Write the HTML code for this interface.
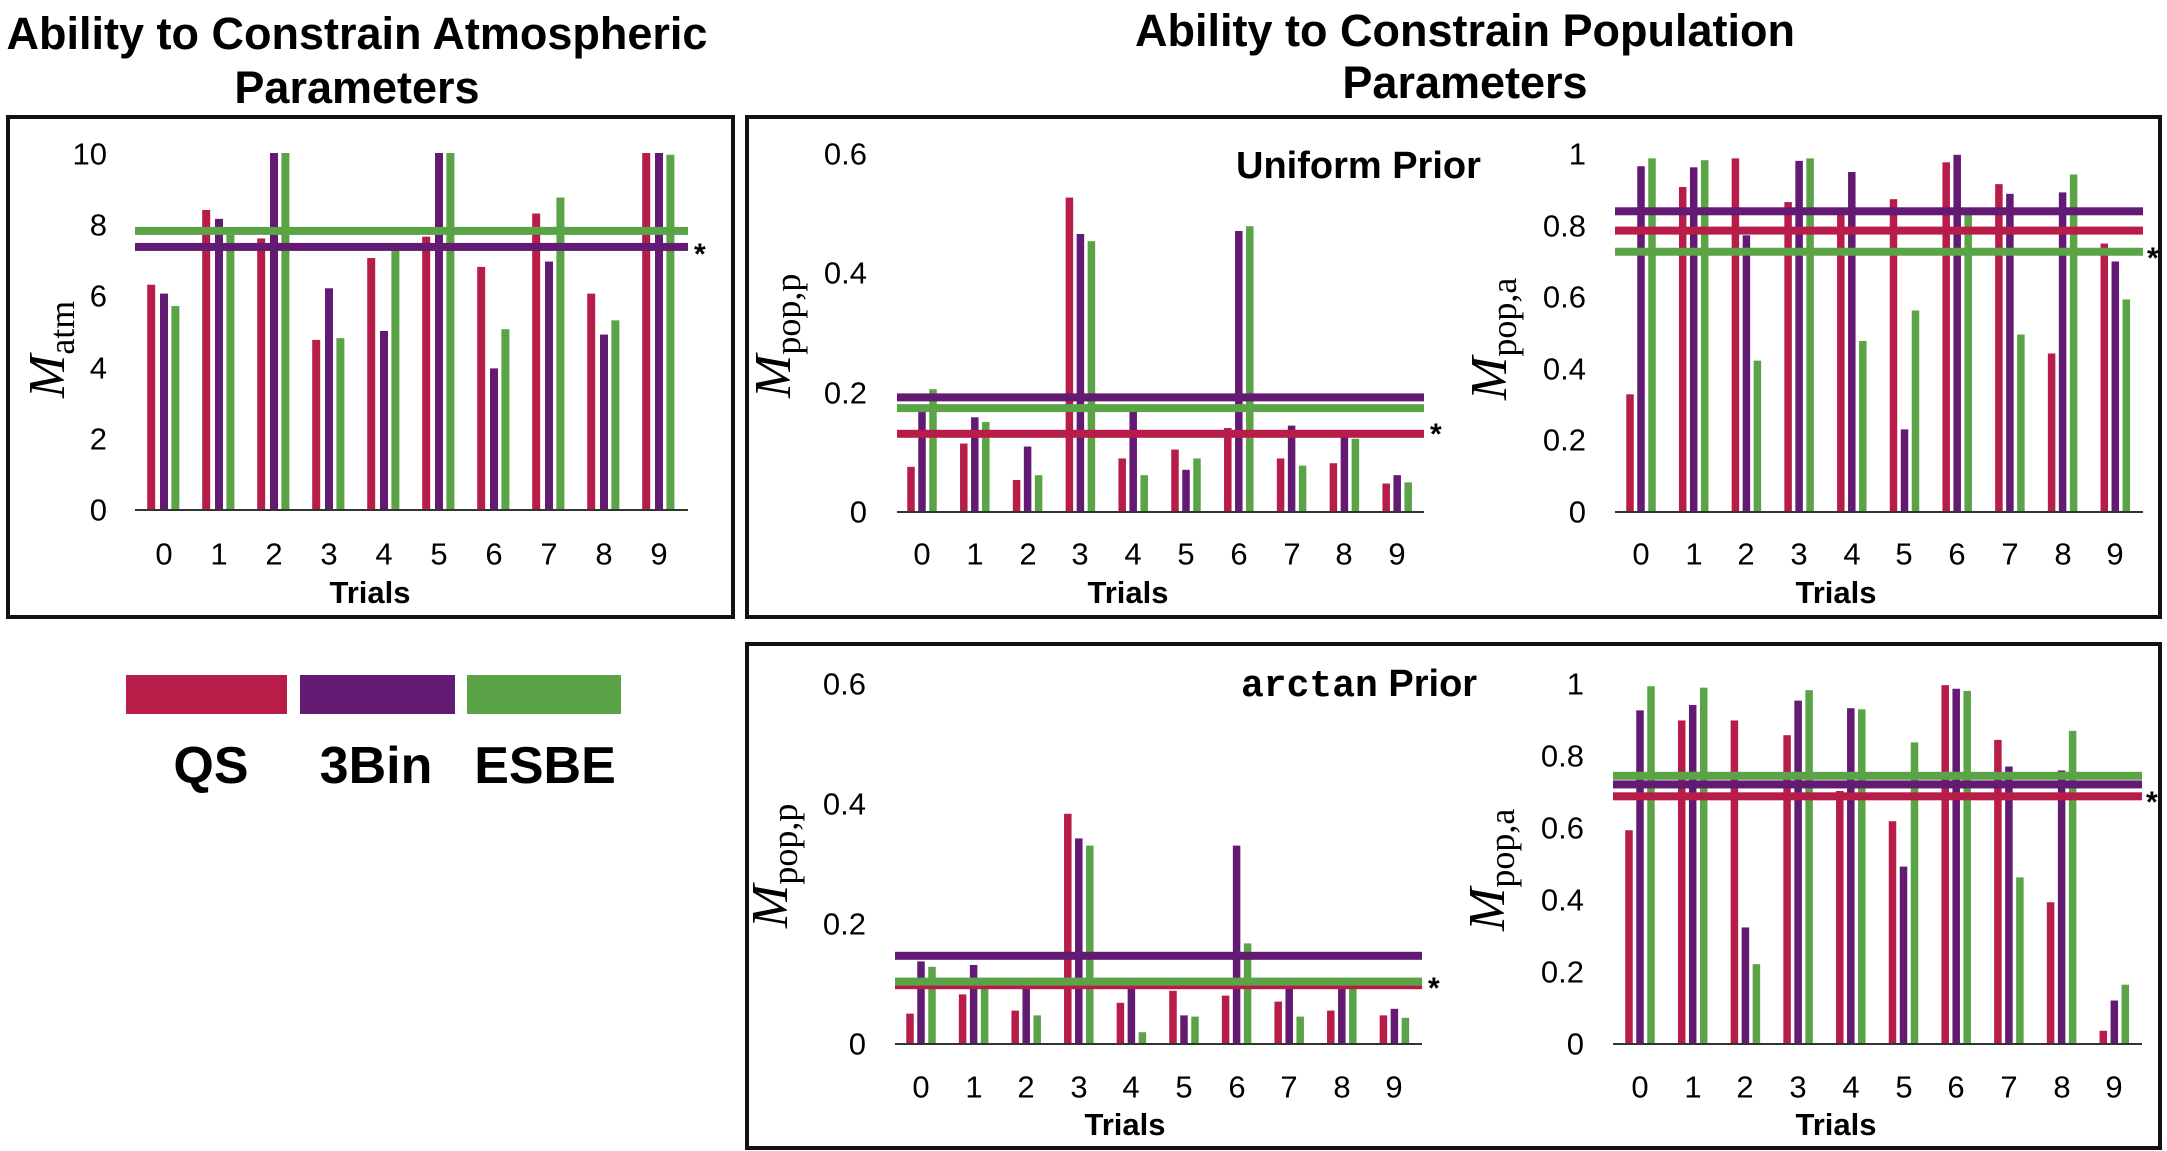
<!DOCTYPE html>
<html><head><meta charset="utf-8"><style>
html,body{margin:0;padding:0;background:#fff;}
svg{display:block;}
text{font-family:"Liberation Sans",sans-serif;fill:#000;}
.t{font-size:31px;}
.b{font-weight:bold;}
.m{font-family:"Liberation Serif",serif;font-style:italic;font-size:52px;}
.s{font-family:"Liberation Serif",serif;font-size:36px;}
</style></head><body>
<svg id="c" width="2167" height="1151" xmlns="http://www.w3.org/2000/svg">
<rect width="2167" height="1151" fill="#fff"/>
<g id="bars"></g>
<text x="357" y="49" text-anchor="middle" class="b" font-size="45">Ability to Constrain Atmospheric</text>
<text x="357" y="103" text-anchor="middle" class="b" font-size="45">Parameters</text>
<text x="1465" y="46" text-anchor="middle" class="b" font-size="45">Ability to Constrain Population</text>
<text x="1465" y="98" text-anchor="middle" class="b" font-size="45">Parameters</text>
<rect x="8" y="117" width="725" height="500" fill="none" stroke="#111" stroke-width="4"/>
<rect x="747" y="117" width="1413" height="500" fill="none" stroke="#111" stroke-width="4"/>
<rect x="747" y="644" width="1413" height="504" fill="none" stroke="#111" stroke-width="4"/>
<text x="1236" y="178" class="b" font-size="38">Uniform Prior</text>
<text x="1241" y="696" font-size="38"><tspan font-family="Liberation Mono,monospace" font-weight="bold">arctan</tspan><tspan font-weight="bold"> Prior</tspan></text>
<g class="t" text-anchor="end" dominant-baseline="central">
<text x="107" y="510">0</text><text x="107" y="439">2</text><text x="107" y="368">4</text><text x="107" y="296">6</text><text x="107" y="225">8</text><text x="107" y="154">10</text>
<text x="867" y="512">0</text><text x="867" y="393">0.2</text><text x="867" y="273">0.4</text><text x="867" y="154">0.6</text>
<text x="1586" y="512">0</text><text x="1586" y="440">0.2</text><text x="1586" y="369">0.4</text><text x="1586" y="297">0.6</text><text x="1586" y="226">0.8</text><text x="1586" y="154">1</text>
<text x="866" y="1044">0</text><text x="866" y="924">0.2</text><text x="866" y="804">0.4</text><text x="866" y="684">0.6</text>
<text x="1584" y="1044">0</text><text x="1584" y="972">0.2</text><text x="1584" y="900">0.4</text><text x="1584" y="828">0.6</text><text x="1584" y="756">0.8</text><text x="1584" y="684">1</text>
</g>
<g class="t" text-anchor="middle" dominant-baseline="central">
<text x="164" y="554">0</text><text x="219" y="554">1</text><text x="274" y="554">2</text><text x="329" y="554">3</text><text x="384" y="554">4</text><text x="439" y="554">5</text><text x="494" y="554">6</text><text x="549" y="554">7</text><text x="604" y="554">8</text><text x="659" y="554">9</text>
<text x="922" y="554">0</text><text x="975" y="554">1</text><text x="1028" y="554">2</text><text x="1080" y="554">3</text><text x="1133" y="554">4</text><text x="1186" y="554">5</text><text x="1239" y="554">6</text><text x="1292" y="554">7</text><text x="1344" y="554">8</text><text x="1397" y="554">9</text>
<text x="1641" y="554">0</text><text x="1694" y="554">1</text><text x="1746" y="554">2</text><text x="1799" y="554">3</text><text x="1852" y="554">4</text><text x="1904" y="554">5</text><text x="1957" y="554">6</text><text x="2010" y="554">7</text><text x="2063" y="554">8</text><text x="2115" y="554">9</text>
<text x="921" y="1087">0</text><text x="974" y="1087">1</text><text x="1026" y="1087">2</text><text x="1079" y="1087">3</text><text x="1131" y="1087">4</text><text x="1184" y="1087">5</text><text x="1237" y="1087">6</text><text x="1289" y="1087">7</text><text x="1342" y="1087">8</text><text x="1394" y="1087">9</text>
<text x="1640" y="1087">0</text><text x="1693" y="1087">1</text><text x="1745" y="1087">2</text><text x="1798" y="1087">3</text><text x="1851" y="1087">4</text><text x="1904" y="1087">5</text><text x="1956" y="1087">6</text><text x="2009" y="1087">7</text><text x="2062" y="1087">8</text><text x="2114" y="1087">9</text>
</g>
<g class="b" font-size="31" text-anchor="middle">
<text x="370" y="603">Trials</text>
<text x="1128" y="603">Trials</text>
<text x="1836" y="603">Trials</text>
<text x="1125" y="1135">Trials</text>
<text x="1836" y="1135">Trials</text>
</g>
<text transform="translate(64,398) rotate(-90)"><tspan class="m">M</tspan><tspan class="s" dy="10">atm</tspan></text>
<text transform="translate(790,398) rotate(-90)"><tspan class="m">M</tspan><tspan class="s" dy="10">pop,p</tspan></text>
<text transform="translate(1506,400) rotate(-90)"><tspan class="m">M</tspan><tspan class="s" dy="10">pop,a</tspan></text>
<text transform="translate(787,928) rotate(-90)"><tspan class="m">M</tspan><tspan class="s" dy="10">pop,p</tspan></text>
<text transform="translate(1504,931) rotate(-90)"><tspan class="m">M</tspan><tspan class="s" dy="10">pop,a</tspan></text>
<g class="b" font-size="30">
<text x="694" y="264">*</text>
<text x="1430" y="444">*</text>
<text x="2147" y="268">*</text>
<text x="1428" y="998">*</text>
<text x="2146" y="812">*</text>
</g>
<rect x="126" y="675" width="161" height="39" fill="#B81C48"/>
<rect x="300" y="675" width="155" height="39" fill="#621A72"/>
<rect x="467" y="675" width="154" height="39" fill="#5AA447"/>
<g class="b" font-size="52" text-anchor="middle">
<text x="211" y="783">QS</text>
<text x="376" y="783">3Bin</text>
<text x="545" y="783">ESBE</text>
</g>
</svg>
<script>
var C=["#B81C48","#621A72","#5AA447"];
var P=[
{x0:164,dx:55,z:510,s:35.6,a:135,b:688,off:[-12.8,0,11.4],w:8,
 v:[[6.3,6.05,5.7],[8.4,8.15,7.7],[7.6,10,10],[4.75,6.2,4.8],[7.05,5.0,7.35],[7.65,10,10],[6.8,3.95,5.05],[8.3,6.95,8.75],[6.05,4.9,5.3],[10,10,9.95]],
 L:[[2,7.84],[1,7.39]]},
{x0:922,dx:52.8,z:512,s:597,a:897,b:1424,off:[-11,0,11],w:7.5,
 v:[[0.074,0.175,0.204],[0.113,0.157,0.149],[0.052,0.108,0.06],[0.525,0.464,0.452],[0.088,0.172,0.06],[0.103,0.069,0.088],[0.139,0.469,0.477],[0.088,0.143,0.076],[0.08,0.13,0.121],[0.046,0.06,0.048]],
 L:[[1,0.192],[2,0.174],[0,0.131]]},
{x0:1641,dx:52.7,z:512,s:358,a:1615,b:2143,off:[-11,0,11],w:7.5,
 v:[[0.326,0.963,0.985],[0.905,0.96,0.98],[0.985,0.77,0.42],[0.863,0.978,0.985],[0.83,0.947,0.475],[0.871,0.228,0.56],[0.974,0.995,0.83],[0.913,0.886,0.493],[0.44,0.89,0.94],[0.747,0.697,0.591]],
 L:[[1,0.84],[0,0.786],[2,0.727]]},
{x0:921,dx:52.6,z:1044,s:600,a:895,b:1422,off:[-11,0,11],w:7.5,
 v:[[0.049,0.136,0.127],[0.081,0.13,0.1],[0.054,0.1,0.046],[0.382,0.341,0.329],[0.067,0.1,0.018],[0.087,0.046,0.044],[0.079,0.329,0.166],[0.069,0.1,0.044],[0.054,0.1,0.091],[0.046,0.057,0.042]],
 L:[[1,0.147],[0,0.098],[2,0.104]]},
{x0:1640,dx:52.7,z:1044,s:360,a:1613,b:2142,off:[-11,0,11],w:7.5,
 v:[[0.591,0.924,0.991],[0.896,0.939,0.987],[0.896,0.321,0.219],[0.855,0.951,0.98],[0.7,0.93,0.927],[0.616,0.49,0.835],[0.994,0.984,0.978],[0.842,0.768,0.46],[0.391,0.757,0.867],[0.034,0.118,0.162]],
 L:[[2,0.745],[1,0.721],[0,0.688]]}
];
var g=document.getElementById("bars"),NS="http://www.w3.org/2000/svg";
function r(x,y,w,h,f){var e=document.createElementNS(NS,"rect");e.setAttribute("x",x);e.setAttribute("y",y);e.setAttribute("width",w);e.setAttribute("height",h);e.setAttribute("fill",f);g.appendChild(e);}
P.forEach(function(p){
 r(p.a,p.z-1,p.b-p.a,2,"#333");
 p.v.forEach(function(t,i){t.forEach(function(v,k){var h=v*p.s;r(p.x0+i*p.dx+p.off[k]-p.w/2,p.z-1-h,p.w,h,C[k]);});});
 p.L.forEach(function(l){var y=p.z-l[1]*p.s;r(p.a,y-4,p.b-p.a,8,C[l[0]]);});
});
</script>
</body></html>
